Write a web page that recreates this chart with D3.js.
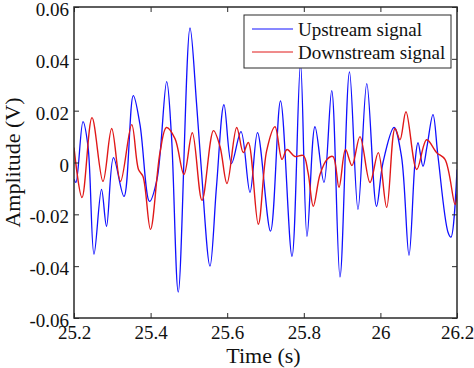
<!DOCTYPE html>
<html>
<head>
<meta charset="utf-8">
<script src="https://cdn.jsdelivr.net/npm/d3@7"></script>
<style>
  html, body { margin: 0; padding: 0; background: #fff; }
</style>
</head>
<body>
<svg id="chart" width="474" height="368"></svg>
<script>
// 数据: 峰谷点 (时间 s, 幅值 V)
const upT = [25.200, 25.205, 25.2235, 25.2366, 25.2522, 25.2718, 25.2849, 25.3031, 25.3305, 25.3548,
  25.3723, 25.3971, 25.4167, 25.4420, 25.4546, 25.4723, 25.5029, 25.5198, 25.5316, 25.5551,
  25.5721, 25.5916, 25.6112, 25.6360, 25.6595, 25.6791, 25.7131, 25.7392, 25.7692, 25.7914,
  25.8084, 25.8292, 25.8527, 25.8729, 25.8945, 25.9193, 25.9415, 25.9645, 25.9898, 26.0068,
  26.0355, 26.0551, 26.0747, 26.0903, 26.0982, 26.1112, 26.1217, 26.1373, 26.1504, 26.1765,
  26.1843, 26.200];
const upV = [-0.0065, -0.0077, 0.0158, 0.0062, -0.0354, -0.0104, -0.0246, 0.0019, -0.0131, 0.0258,
  0.0146, -0.0150, -0.0065, 0.0312, 0.0100, -0.0500, 0.0519, 0.0231, -0.0008, -0.0400,
  -0.0092, 0.0223, -0.0004, 0.0119, -0.0115, 0.0115, -0.0265, 0.0238, -0.0362, 0.0381,
  -0.0285, 0.0138, -0.0077, 0.0277, -0.0442, 0.0350, -0.0181, 0.0304, -0.0169, 0.0000,
  0.0135, 0.0023, -0.0358, 0.0000, 0.0077, -0.0015, 0.0062, 0.0185, 0.0023, -0.0269,
  -0.0288, -0.0027];

const downT = [25.200, 25.2209, 25.2470, 25.2757, 25.2984, 25.3214, 25.3507, 25.3684, 25.3802, 25.3997,
  25.4245, 25.4415, 25.4637, 25.4872, 25.5089, 25.5342, 25.5642, 25.5812, 25.5995, 25.6248,
  25.6420, 25.6551, 25.6812, 25.7031, 25.7248, 25.7431, 25.7561, 25.7770, 25.7987, 25.8110,
  25.8248, 25.8423, 25.8606, 25.8762, 25.8919, 25.9089, 25.9258, 25.9467, 25.9728, 25.9945,
  26.0164, 26.0381, 26.0512, 26.0668, 26.0948, 26.1209, 26.1470, 26.1687, 26.1948, 26.200];
const downV = [0.0058, -0.0135, 0.0173, -0.0073, 0.0131, -0.0073, 0.0146, -0.0027, -0.0054, -0.0258,
  0.0038, 0.0135, 0.0092, -0.0046, 0.0115, -0.0146, 0.0123, 0.0062, -0.0081, 0.0135,
  0.0038, 0.0077, -0.0238, 0.0046, 0.0138, 0.0012, 0.0050, 0.0023, 0.0027, -0.0038,
  -0.0169, -0.0046, 0.0012, 0.0023, -0.0096, 0.0050, -0.0012, 0.0100, -0.0077, 0.0038,
  -0.0173, 0.0131, 0.0088, 0.0196, -0.0027, 0.0088, 0.0038, 0.0012, -0.0162, -0.0123];

const xTicks = [25.2, 25.4, 25.6, 25.8, 26, 26.2];
const xTickLabels = ["25.2", "25.4", "25.6", "25.8", "26", "26.2"];
const yTicks = [-0.06, -0.04, -0.02, 0, 0.02, 0.04, 0.06];
const yTickLabels = ["-0.06", "-0.04", "-0.02", "0", "0.02", "0.04", "0.06"];
const seriesNames = ["Upstream signal", "Downstream signal"];
const seriesColors = ["#1010ff", "#e01818"];

(function () {
  const W = 474, H = 368;
  const m = { l: 74, r: 17, t: 7, b: 50 };
  const FONT = '"Liberation Serif", "DejaVu Serif", "Times New Roman", Times, serif';
  const svg = d3.select("#chart").attr("font-family", FONT);
  const x = d3.scaleLinear().domain([25.2, 26.2]).range([m.l, W - m.r]);
  const y = d3.scaleLinear().domain([-0.06, 0.06]).range([H - m.b, m.t]);
  const AX = "#2a2a2a";

  // 曲线
  const line = d3.line().x((d) => x(d[0])).y((d) => y(d[1])).curve(d3.curveCatmullRom.alpha(0.5));
  svg.append("clipPath").attr("id", "clip").append("rect")
    .attr("x", m.l).attr("y", m.t).attr("width", W - m.l - m.r).attr("height", H - m.t - m.b);
  const plot = svg.append("g").attr("clip-path", "url(#clip)");
  plot.append("path").datum(d3.zip(upT, upV)).attr("fill", "none")
    .attr("stroke", seriesColors[0]).attr("stroke-width", 1.3).attr("d", line);
  plot.append("path").datum(d3.zip(downT, downV)).attr("fill", "none")
    .attr("stroke", seriesColors[1]).attr("stroke-width", 1.4).attr("d", line);

  // 坐标轴 (刻度朝内, 四边)
  const fs = 19;
  const gB = svg.append("g").attr("transform", `translate(0,${H - m.b})`)
    .call(d3.axisBottom(x).tickValues(xTicks).tickSizeInner(-5).tickSizeOuter(0).tickFormat((d, i) => xTickLabels[i]));
  const gT = svg.append("g").attr("transform", `translate(0,${m.t})`)
    .call(d3.axisTop(x).tickValues(xTicks).tickSizeInner(-5).tickSizeOuter(0).tickFormat(""));
  const gL = svg.append("g").attr("transform", `translate(${m.l},0)`)
    .call(d3.axisLeft(y).tickValues(yTicks).tickSizeInner(-5).tickSizeOuter(0).tickFormat((d, i) => yTickLabels[i]));
  const gR = svg.append("g").attr("transform", `translate(${W - m.r},0)`)
    .call(d3.axisRight(y).tickValues(yTicks).tickSizeInner(-5).tickSizeOuter(0).tickFormat(""));
  [gB, gT, gL, gR].forEach((g) => {
    g.attr("font-family", FONT).attr("font-size", fs);
    g.select(".domain").remove();
    g.selectAll(".tick line").attr("stroke", AX).attr("stroke-width", 1);
    g.selectAll("text").attr("fill", "#111");
  });
  gB.selectAll("text").attr("y", 8).attr("dy", "0.71em");
  gL.selectAll("text").attr("x", -5).attr("dy", "0.45em");
  svg.append("rect").attr("x", m.l).attr("y", m.t).attr("width", W - m.l - m.r).attr("height", H - m.t - m.b)
    .attr("fill", "none").attr("stroke", AX).attr("stroke-width", 1.5);

  // 轴标题
  svg.append("text").attr("x", (m.l + W - m.r) / 2 - 2).attr("y", 363).attr("text-anchor", "middle")
    .attr("font-size", 22).attr("fill", "#111").text("Time (s)");
  svg.append("text").attr("transform", `translate(20,${(m.t + H - m.b) / 2}) rotate(-90)`)
    .attr("text-anchor", "middle").attr("font-size", 22).attr("fill", "#111").text("Amplitude (V)");

  // 图例
  const lg = svg.append("g");
  lg.append("rect").attr("x", 244).attr("y", 15).attr("width", 207).attr("height", 53)
    .attr("fill", "#fff").attr("stroke", AX).attr("stroke-width", 1);
  seriesNames.forEach((name, i) => {
    const yy = 29 + i * 23;
    lg.append("line").attr("x1", 252).attr("x2", 293).attr("y1", yy).attr("y2", yy)
      .attr("stroke", seriesColors[i]).attr("stroke-width", 1);
    lg.append("text").attr("x", 298).attr("y", yy + 7).attr("font-size", fs).attr("fill", "#111").text(name);
  });
})();
</script>
</body>
</html>
